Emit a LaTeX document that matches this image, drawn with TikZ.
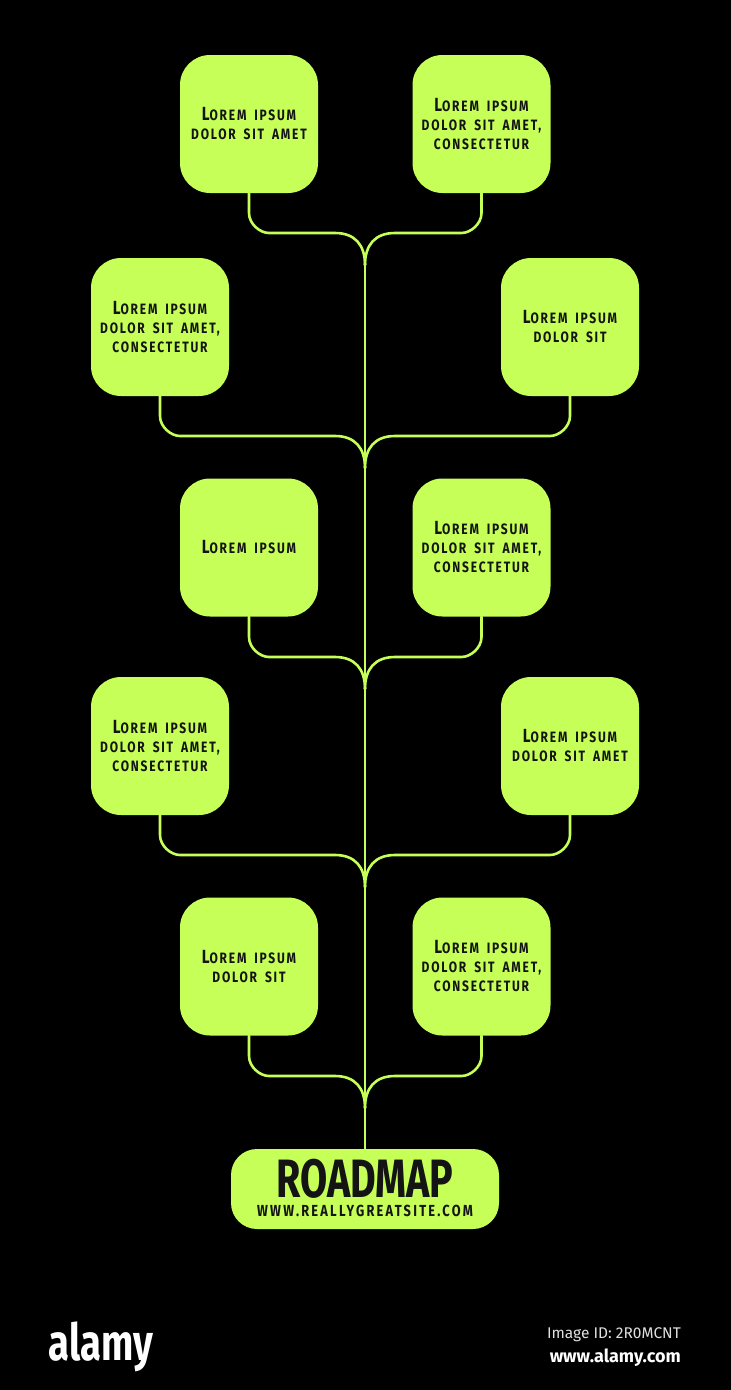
\documentclass[tikz,border=0pt]{standalone}
\usepackage{fontspec}
\setmainfont{Fira Sans}
\newfontfamily\boxfont[LetterSpace=12, FakeStretch=0.8, WordSpace=1.7]{Fira Sans}
\newfontfamily\urlfont[LetterSpace=14, FakeStretch=0.8]{Fira Sans}
\definecolor{lime}{HTML}{C6FF57}
\definecolor{ink}{HTML}{141414}
\newcommand{\Lip}{{\fontsize{19}{19}\selectfont L}OREM IPSUM}
\tikzset{
  box/.style={fill=lime, rounded corners=30pt, minimum width=138pt, minimum height=138pt,
    align=center, text=ink, font=\boxfont\bfseries\fontsize{15}{19}\selectfont, inner sep=0pt},
  conn/.style={draw=lime, line width=2.6pt, line cap=round}
}
\begin{document}
\begin{tikzpicture}[x=1pt,y=-1pt]
\fill[black] (0,0) rectangle (731,1390);
\useasboundingbox (0,0) rectangle (731,1390);
% boxes
\node[box] (b1) at (249,124) {\Lip\\DOLOR SIT AMET};
\node[box] (b2) at (481.5,124) {\Lip\\DOLOR SIT AMET,\\CONSECTETUR};
\node[box] (b3) at (160,327) {\Lip\\DOLOR SIT AMET,\\CONSECTETUR};
\node[box] (b4) at (570,327) {\Lip\\DOLOR SIT};
\node[box] (b5) at (249,547.5) {\Lip};
\node[box] (b6) at (481.5,547.5) {\Lip\\DOLOR SIT AMET,\\CONSECTETUR};
\node[box] (b7) at (160,746) {\Lip\\DOLOR SIT AMET,\\CONSECTETUR};
\node[box] (b8) at (570,746) {\Lip\\DOLOR SIT AMET};
\node[box] (b9) at (249,966.5) {\Lip\\DOLOR SIT};
\node[box] (b10) at (481.5,966.5) {\Lip\\DOLOR SIT AMET,\\CONSECTETUR};
% roadmap box
\node[fill=lime, rounded corners=26pt, minimum width=268pt, minimum height=80pt, inner sep=0pt] (rm) at (365,1189) {};
\node[text=ink, inner sep=0pt, anchor=base, text depth=0pt, font=\bfseries\fontsize{54}{54}\selectfont] (rmt) at (365,1197) {\scalebox{0.73}[1]{ROADMAP}};
\node[text=ink, inner sep=0pt, anchor=base, text height=11pt, font=\urlfont\bfseries\fontsize{16}{16}\selectfont] (url) at (365,1216.5) {WWW.REALLYGREATSITE.COM};
% junction coordinates
\coordinate (j1) at (365,265);
\coordinate (j2) at (365,468);
\coordinate (j3) at (365,689);
\coordinate (j4) at (365,887);
\coordinate (j5) at (365,1108);
% trunk
\draw[conn] (rm.north) -- (j1);
% branches
\foreach \L/\R/\J/\h in {b1/b2/j1/233, b3/b4/j2/436, b5/b6/j3/657, b7/b8/j4/855, b9/b10/j5/1076}{
  \draw[conn] (\L.south) -- ([yshift=20pt]\L.south |- 0,\h) .. controls ([yshift=9pt]\L.south |- 0,\h) and ([xshift=11pt]\L.south |- 0,\h) .. ([xshift=20pt]\L.south |- 0,\h)
     -- (335,\h) .. controls (355,\h) and (365,\h+12) .. (\J);
  \draw[conn] (\R.south) -- ([yshift=20pt]\R.south |- 0,\h) .. controls ([yshift=9pt]\R.south |- 0,\h) and ([xshift=-11pt]\R.south |- 0,\h) .. ([xshift=-20pt]\R.south |- 0,\h)
     -- (395,\h) .. controls (375,\h) and (365,\h+12) .. (\J);
}
% footer
\node[text=white, inner sep=0pt, anchor=base, font=\bfseries\fontsize{51}{51}\selectfont] (al) at (101,1360) {\scalebox{0.75}[1]{alamy}};
\node[text=white!88!black, anchor=base east, inner sep=0pt, font=\fontsize{15.5}{17}\selectfont] (iid) at (681,1338) {Image ID: 2R0MCNT};
\node[text=white, anchor=base east, inner sep=0pt, font=\bfseries\fontsize{18}{20}\selectfont] (www) at (681,1362) {www.alamy.com};
\end{tikzpicture}
\end{document}
